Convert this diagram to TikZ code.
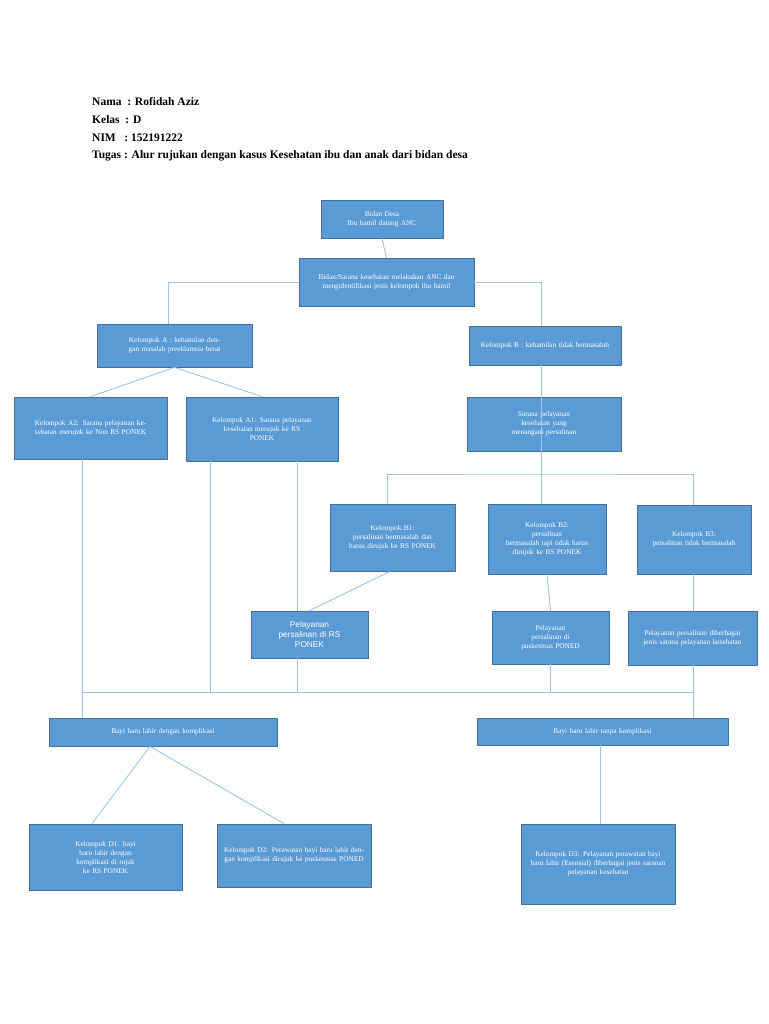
\documentclass[tikz,border=0pt]{standalone}
\usepackage{fontspec}
\setmainfont{Liberation Serif}
\newfontfamily\sansf{Liberation Sans}
\begin{document}
\definecolor{bfill}{HTML}{5B9BD5}
\definecolor{bdraw}{HTML}{41719C}
\definecolor{lnk}{HTML}{9DC3E6}
\begin{tikzpicture}[x=1pt,y=-1pt,
  bx/.style={draw=bdraw,fill=bfill,line width=0.8pt,text=white,align=center,inner sep=1pt,font=\fontsize{7.3}{9}\selectfont},
  ln/.style={draw=lnk,line width=0.9pt},
  hd/.style={anchor=west,font=\fontsize{11.5}{13}\selectfont\bfseries,inner sep=0pt}]
\useasboundingbox (0,0) rectangle (768,1024);
\newcommand\bbox[6]{\node[bx,minimum width=#4-#2,minimum height=#5-#3,text width=#4-#2-8] (#1) at ({(#2+#4)/2},{(#3+#5)/2}) {#6};}
\node[hd] (h1) at (92,102) {Nama\ \ : Rofidah Aziz};
\node[hd] (h2) at (92,120) {Kelas\ \ : D};
\node[hd] (h3) at (92,138) {NIM\ \ \ : 152191222};
\node[hd] (h4) at (92,156) {Tugas : Alur rujukan dengan kasus Kesehatan ibu dan anak dari bidan desa};
\bbox{desa}{321}{200}{443}{238}{Bidan Desa\\Ibu hamil datang ANC}
\bbox{anc}{299}{258}{474}{306}{Bidan/Sarana kesehatan melakukan ANC dan mengidentifikasi jenis kelompok ibu hamil}
\bbox{ka}{97}{324}{252}{367}{Kelompok A : kehamilan dengan masalah preeklamsia berat}
\bbox{kb}{469}{326}{621}{365}{Kelompok B : kehamilan tidak bermasalah}
\bbox{a2}{14}{397}{167}{459}{Kelompok A2: Sarana pelayanan kesehatan merujuk ke Non RS PONEK}
\bbox{a1}{186}{397}{338}{461}{Kelompok A1: Sarana pelayanan kesehatan merujuk ke RS\\PONEK}
\bbox{sp}{467}{397}{621}{451}{Sarana pelayanan\\kesehatan yang\\menangani persalinan}
\bbox{b1}{330}{504}{455}{571}{Kelompok B1:\\persalinan bermasalah dan harus dirujuk ke RS PONEK}
\bbox{b2}{488}{504}{606}{574}{Kelompok B2:\\persalinan\\bermasalah tapi tidak harus dirujuk ke RS PONEK}
\bbox{b3}{637}{505}{751}{574}{Kelompok B3:\\persalinan tidak bermasalah\\[10pt]}
\node[bx,minimum width=117,minimum height=47,text width=100,font=\sansf\fontsize{8.3}{10}\selectfont] (rs) at (309.5,634.5) {Pelayanan\\persalinan di RS\\PONEK};
\bbox{pus}{492}{611}{609}{664}{Pelayanan\\persalinan di\\puskesmas PONED}
\bbox{ber}{628}{611}{757}{665}{Pelayanan persalinan diberbagai jenis sarana pelayanan kesehatan}
\bbox{bbk}{49}{718}{277}{746}{Bayi baru lahir dengan komplikasi}
\bbox{bbt}{477}{718}{728}{745}{Bayi baru lahir tanpa komplikasi}
\bbox{d1}{29}{824}{182}{890}{Kelompok D1: bayi\\baru lahir dengan\\komplikasi di rujuk\\ke RS PONEK}
\bbox{d2}{217}{824}{371}{887}{Kelompok D2: Perawatan bayi baru lahir dengan komplikasi dirujuk ke puskesmas PONED}
\bbox{d3}{521}{824}{675}{904}{Kelompok D3: Pelayanan perawatan bayi baru lahir (Esensial) diberbagai jenis saranan\\pelayanan kesehatan}
\coordinate (j1) at (541,474);
\coordinate (j2) at (82,692);
\coordinate (j3) at (693,692);
\draw[ln] (desa.south) -- (anc.north);
\draw[ln] (anc.west) -| (ka.north -| 168,0);
\draw[ln] (anc.east) -| (kb.north -| 541,0);
\draw[ln] (ka.south) -- (a2.north);
\draw[ln] (ka.south) -- (a1.north);
\draw[ln] (kb.south -| 541,0) -- (sp.south -| 541,0);
\draw[ln] (sp.south -| 541,0) -- (j1);
\draw[ln] (b1.north -| 387,0) |- (j1) -| (b3.north -| 693,0);
\draw[ln] (j1) -- (b2.north -| 541,0);
\draw[ln] (b1.south -| 390,0) -- (rs.north);
\draw[ln] (b2.south) -- (pus.north);
\draw[ln] (b3.south -| 693,0) -- (ber.north -| 693,0);
\draw[ln] (a2.south -| 82,0) -- (bbk.north -| 82,0);
\draw[ln] (a1.south -| 210,0) -- (210,692);
\draw[ln] (a1.south -| 297,0) -- (rs.north -| 297,0);
\draw[ln] (rs.south -| 297,0) -- (297,692);
\draw[ln] (pus.south) -- (pus.south |- j3);
\draw[ln] (j2) -- (j3);
\draw[ln] (ber.south -| 693,0) -- (bbt.north -| 693,0);
\draw[ln] (bbk.south -| 150,0) -- (d1.north -| 92,0);
\draw[ln] (bbk.south -| 150,0) -- (d2.north -| 284,0);
\draw[ln] (bbt.south -| 600,0) -- (d3.north -| 600,0);
\end{tikzpicture}
\end{document}
